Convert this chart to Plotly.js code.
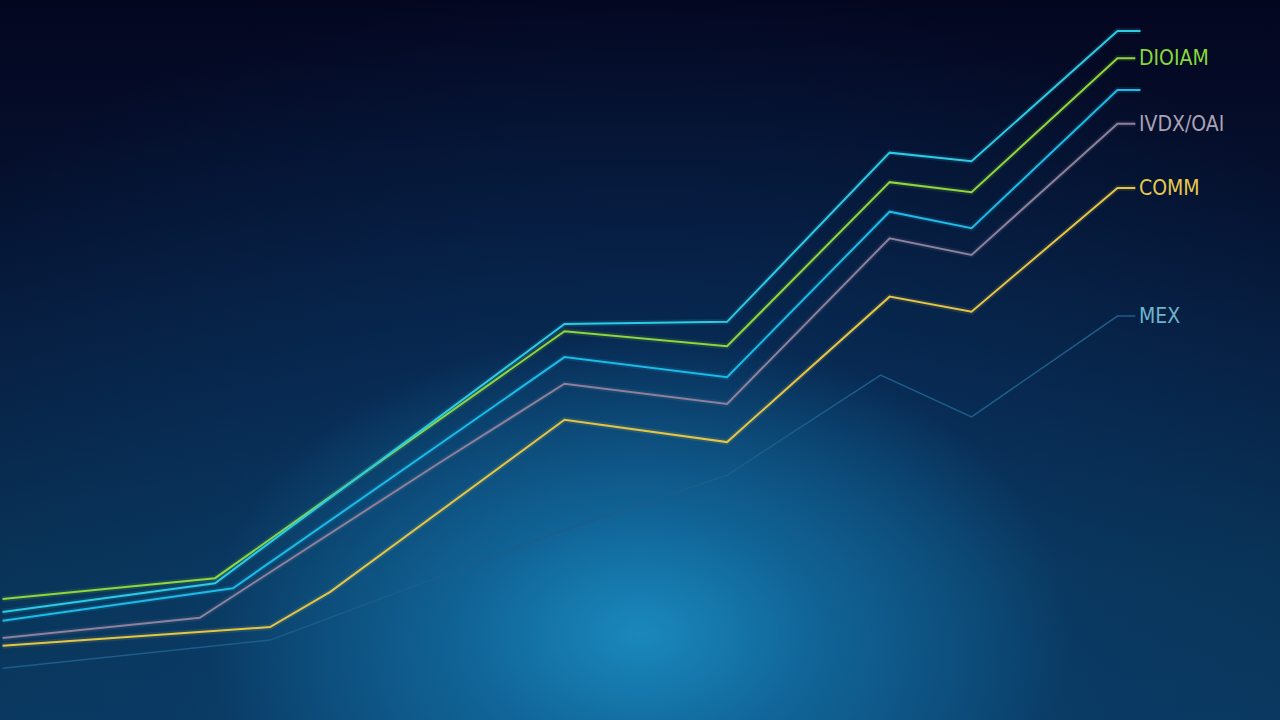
<!DOCTYPE html>
<html>
<head>
<meta charset="utf-8">
<script src="https://cdn.plot.ly/plotly-3.0.1.min.js"></script>
<style>
html,body{margin:0;padding:0;width:1280px;height:720px;overflow:hidden;
background:
 radial-gradient(ellipse 430px 300px at 50% 88%, rgba(26,136,188,1) 0%, rgba(20,118,172,0.65) 40%, rgba(14,96,156,0) 100%),
 radial-gradient(ellipse 950px 680px at 50% 92%, rgba(12,92,150,0.6) 0%, rgba(10,70,128,0.3) 50%, rgba(0,0,0,0) 100%),
 linear-gradient(to bottom, #040620 0%, #051230 30%, #071f40 55%, #09304f 80%, #0a3558 100%);}
#chart{width:1280px;height:720px;}
</style>
</head>
<body>
<div id="chart"></div>
<script>
// Series values (x: time index 0-100, y: value index 0-100)
const cyanTopX   = [0.2, 16.8, 44.1, 56.8, 69.5, 75.9, 87.3, 89.1];
const cyanTopY   = [15.0, 19.0, 55.0, 55.3, 78.8, 77.6, 95.7, 95.7];
const greenX     = [0.2, 16.8, 44.1, 56.8, 69.5, 75.9, 87.3, 88.7];
const greenY     = [16.8, 19.7, 54.0, 51.9, 74.7, 73.3, 91.9, 91.9];
const cyanMidX   = [0.2, 18.2, 44.1, 56.8, 69.5, 75.9, 87.3, 89.1];
const cyanMidY   = [13.8, 18.3, 50.4, 47.6, 70.6, 68.3, 87.5, 87.5];
const mauveX     = [0.2, 15.6, 34.4, 44.1, 56.8, 69.5, 75.9, 87.3, 88.7];
const mauveY     = [11.4, 14.2, 35.8, 46.7, 43.9, 66.9, 64.6, 82.8, 82.8];
const yellowX    = [0.2, 21.1, 25.8, 44.1, 56.8, 69.5, 75.9, 87.3, 88.7];
const yellowY    = [10.3, 12.9, 17.8, 41.7, 38.6, 58.8, 56.7, 73.9, 73.9];
const faintX     = [0.2, 21.1, 44.1, 56.8, 68.8, 75.9, 87.3, 88.7];
const faintY     = [7.2, 11.1, 26.4, 34.0, 47.9, 42.1, 56.1, 56.1];

const labels      = ["DIOIAM", "IVDX/OAI", "COMM", "MEX"];
const labelValues = [91.9, 82.8, 73.9, 56.1];
const labelColors = ["#86d83c", "#aaa3b4", "#e6c84c", "#6fb4cc"];

const series = [
  {x: faintX, y: faintY, c: "#1c5d8a", w: 1.5, glow: false},
  {x: yellowX, y: yellowY, c: "#e4c646", w: 2, glow: true},
  {x: mauveX, y: mauveY, c: "#8d819c", w: 2, glow: true},
  {x: cyanMidX, y: cyanMidY, c: "#1cbbe8", w: 2, glow: true},
  {x: greenX, y: greenY, c: "#8fd73c", w: 2, glow: true},
  {x: cyanTopX, y: cyanTopY, c: "#2ccbe6", w: 2, glow: true}
];

const traces = [];
series.forEach(s => {
  if (s.glow) {
    traces.push({x: s.x, y: s.y, mode: "lines", hoverinfo: "skip",
      line: {color: s.c, width: 6}, opacity: 0.12, showlegend: false});
  }
  traces.push({x: s.x, y: s.y, mode: "lines",
    line: {color: s.c, width: s.w}, showlegend: false});
});

const annotations = labels.map((t, i) => ({
  x: 88.8, y: labelValues[i], xref: "x", yref: "y", text: t,
  showarrow: false, xanchor: "left", yanchor: "middle",
  font: {family: "Liberation Sans Narrow, DejaVu Sans Condensed, Roboto, sans-serif", size: 21, color: labelColors[i]}
}));

const layout = {
  width: 1280, height: 720,
  margin: {l: 0, r: 0, t: 0, b: 0},
  paper_bgcolor: "rgba(0,0,0,0)",
  plot_bgcolor: "rgba(0,0,0,0)",
  xaxis: {range: [0, 100], visible: false, fixedrange: true},
  yaxis: {range: [0, 100], visible: false, fixedrange: true},
  annotations: annotations,
  showlegend: false
};

Plotly.newPlot("chart", traces, layout, {displayModeBar: false, staticPlot: true});
</script>
</body>
</html>
